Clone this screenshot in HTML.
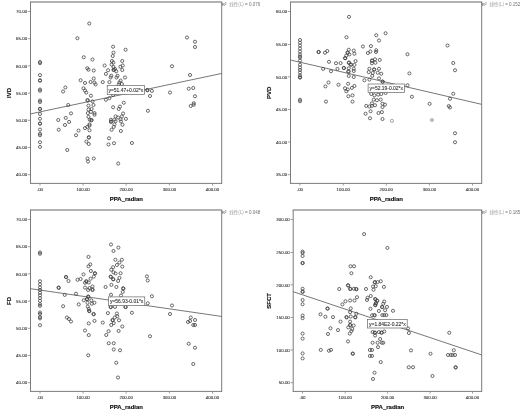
<!DOCTYPE html>
<html><head><meta charset="utf-8"><title>Scatter plots</title>
<style>
html,body{margin:0;padding:0;background:#fff;}
body{width:520px;height:416px;overflow:hidden;}
svg{display:block;}
.tk{font-family:"Liberation Sans",sans-serif;font-size:4.4px;fill:#3c3c3c;stroke:#3c3c3c;stroke-width:0.12;}
.ax{font-family:"Liberation Sans",sans-serif;font-size:6px;font-weight:bold;fill:#111;stroke:#111;stroke-width:0.15;}
.eq{font-family:"Liberation Sans",sans-serif;font-size:4.95px;fill:#333;stroke:#333;stroke-width:0.1;}
.r2{font-family:"Liberation Sans","Noto Sans CJK SC",sans-serif;font-size:4.5px;fill:#727272;}
.r2b{font-family:"Liberation Sans",sans-serif;font-size:4.3px;fill:#444;}
.c{fill:none;stroke:#424242;stroke-width:0.78;}
.f{fill:none;stroke:#747474;stroke-width:0.95;}
.ft{stroke:#9a9a9a;stroke-width:1.5;}
.t{stroke:#777;stroke-width:0.7;}
.ln{stroke:#686868;stroke-width:0.9;}
.bx{fill:#fff;stroke:#666;stroke-width:0.7;}
</style></head><body>
<svg width="520" height="416" viewBox="0 0 520 416">
<rect width="520" height="416" fill="#fff"/>
<g filter="url(#b)">
<defs><filter id="b" x="0" y="0" width="520" height="416" filterUnits="userSpaceOnUse"><feGaussianBlur stdDeviation="0.35"/></filter></defs>
<g>
<line class="f ft" x1="30.0" y1="2" x2="222.2" y2="2"/>
<line class="f" x1="30.5" y1="2" x2="30.5" y2="183.4"/>
<line class="f" x1="221.7" y1="2" x2="221.7" y2="183.4"/>
<line class="f" x1="30.0" y1="183.4" x2="222.2" y2="183.4"/>
<line class="t" x1="40" y1="183.4" x2="40" y2="185.6"/><text class="tk" x="40" y="190.9" text-anchor="middle">.00</text>
<line class="t" x1="83.1" y1="183.4" x2="83.1" y2="185.6"/><text class="tk" x="83.1" y="190.9" text-anchor="middle">100.00</text>
<line class="t" x1="126.2" y1="183.4" x2="126.2" y2="185.6"/><text class="tk" x="126.2" y="190.9" text-anchor="middle">200.00</text>
<line class="t" x1="169.4" y1="183.4" x2="169.4" y2="185.6"/><text class="tk" x="169.4" y="190.9" text-anchor="middle">300.00</text>
<line class="t" x1="212.5" y1="183.4" x2="212.5" y2="185.6"/><text class="tk" x="212.5" y="190.9" text-anchor="middle">400.00</text>
<line class="t" x1="27.9" y1="11.5" x2="30.5" y2="11.5"/><text class="tk" x="27.1" y="13.2" text-anchor="end">70.00</text>
<line class="t" x1="27.9" y1="38.7" x2="30.5" y2="38.7"/><text class="tk" x="27.1" y="40.4" text-anchor="end">65.00</text>
<line class="t" x1="27.9" y1="65.9" x2="30.5" y2="65.9"/><text class="tk" x="27.1" y="67.6" text-anchor="end">60.00</text>
<line class="t" x1="27.9" y1="93.1" x2="30.5" y2="93.1"/><text class="tk" x="27.1" y="94.8" text-anchor="end">55.00</text>
<line class="t" x1="27.9" y1="120.3" x2="30.5" y2="120.3"/><text class="tk" x="27.1" y="122.0" text-anchor="end">50.00</text>
<line class="t" x1="27.9" y1="147.5" x2="30.5" y2="147.5"/><text class="tk" x="27.1" y="149.2" text-anchor="end">45.00</text>
<line class="t" x1="27.9" y1="174.7" x2="30.5" y2="174.7"/><text class="tk" x="27.1" y="176.4" text-anchor="end">40.00</text>
<line class="ln" x1="30.5" y1="113.9" x2="221.7" y2="73.45"/>
<circle class="c" cx="89.25" cy="23.5" r="1.55"/><circle class="c" cx="77.4" cy="38.2" r="1.55"/><circle class="c" cx="40" cy="62" r="1.55"/><circle class="c" cx="40" cy="63.2" r="1.55"/><circle class="c" cx="40" cy="75.1" r="1.55"/><circle class="c" cx="40" cy="80.3" r="1.55"/><circle class="c" cx="40" cy="80.7" r="1.55"/><circle class="c" cx="40" cy="89.5" r="1.55"/><circle class="c" cx="40" cy="90.7" r="1.55"/><circle class="c" cx="40" cy="100.5" r="1.55"/><circle class="c" cx="40" cy="102" r="1.55"/><circle class="c" cx="83.75" cy="57.25" r="1.55"/><circle class="c" cx="92.5" cy="59.5" r="1.55"/><circle class="c" cx="87.25" cy="68.25" r="1.55"/><circle class="c" cx="88.5" cy="69.75" r="1.55"/><circle class="c" cx="93.75" cy="70.5" r="1.55"/><circle class="c" cx="93.75" cy="78.5" r="1.55"/><circle class="c" cx="80.6" cy="80.25" r="1.55"/><circle class="c" cx="85" cy="83" r="1.55"/><circle class="c" cx="90.6" cy="82" r="1.55"/><circle class="c" cx="94.4" cy="82.6" r="1.55"/><circle class="c" cx="65.4" cy="87.4" r="1.55"/><circle class="c" cx="63.1" cy="91.5" r="1.55"/><circle class="c" cx="83.5" cy="88.25" r="1.55"/><circle class="c" cx="85" cy="90.5" r="1.55"/><circle class="c" cx="86.25" cy="92.6" r="1.55"/><circle class="c" cx="90.9" cy="95.75" r="1.55"/><circle class="c" cx="87.5" cy="100.1" r="1.55"/><circle class="c" cx="87.7" cy="100.5" r="1.55"/><circle class="c" cx="92.5" cy="101.4" r="1.55"/><circle class="c" cx="113.1" cy="46.75" r="1.55"/><circle class="c" cx="125.6" cy="49.75" r="1.55"/><circle class="c" cx="113.5" cy="52.6" r="1.55"/><circle class="c" cx="112.75" cy="56" r="1.55"/><circle class="c" cx="111.9" cy="61" r="1.55"/><circle class="c" cx="113.4" cy="62.5" r="1.55"/><circle class="c" cx="122.25" cy="61" r="1.55"/><circle class="c" cx="111.6" cy="64.5" r="1.55"/><circle class="c" cx="104.6" cy="65.5" r="1.55"/><circle class="c" cx="113.5" cy="67" r="1.55"/><circle class="c" cx="120.4" cy="66.75" r="1.55"/><circle class="c" cx="122.75" cy="65.5" r="1.55"/><circle class="c" cx="108.1" cy="70.25" r="1.55"/><circle class="c" cx="113.5" cy="69.75" r="1.55"/><circle class="c" cx="113.8" cy="70.1" r="1.55"/><circle class="c" cx="115" cy="69.1" r="1.55"/><circle class="c" cx="116.25" cy="71.25" r="1.55"/><circle class="c" cx="122.25" cy="70" r="1.55"/><circle class="c" cx="105.9" cy="73.9" r="1.55"/><circle class="c" cx="111.25" cy="75.75" r="1.55"/><circle class="c" cx="117.5" cy="75.75" r="1.55"/><circle class="c" cx="125" cy="77.5" r="1.55"/><circle class="c" cx="110.6" cy="77.5" r="1.55"/><circle class="c" cx="116.5" cy="77.5" r="1.55"/><circle class="c" cx="102.75" cy="82.1" r="1.55"/><circle class="c" cx="109.4" cy="82.1" r="1.55"/><circle class="c" cx="120.6" cy="80.6" r="1.55"/><circle class="c" cx="119.4" cy="82.5" r="1.55"/><circle class="c" cx="118.75" cy="84.4" r="1.55"/><circle class="c" cx="121.9" cy="84" r="1.55"/><circle class="c" cx="95.6" cy="84.4" r="1.55"/><circle class="c" cx="147.25" cy="90" r="1.55"/><circle class="c" cx="147.5" cy="90.3" r="1.55"/><circle class="c" cx="151.9" cy="90.9" r="1.55"/><circle class="c" cx="150" cy="96" r="1.55"/><circle class="c" cx="113.1" cy="95" r="1.55"/><circle class="c" cx="109.4" cy="98.1" r="1.55"/><circle class="c" cx="105.9" cy="99.75" r="1.55"/><circle class="c" cx="123.75" cy="102.75" r="1.55"/><circle class="c" cx="113.1" cy="107.25" r="1.55"/><circle class="c" cx="120" cy="106.6" r="1.55"/><circle class="c" cx="118.75" cy="109" r="1.55"/><circle class="c" cx="147.9" cy="110.8" r="1.55"/><circle class="c" cx="123.1" cy="113.5" r="1.55"/><circle class="c" cx="115.6" cy="116.4" r="1.55"/><circle class="c" cx="118.1" cy="117.5" r="1.55"/><circle class="c" cx="121.9" cy="116.4" r="1.55"/><circle class="c" cx="125.9" cy="118.9" r="1.55"/><circle class="c" cx="110.9" cy="119.75" r="1.55"/><circle class="c" cx="110.9" cy="121.9" r="1.55"/><circle class="c" cx="111.2" cy="121.5" r="1.55"/><circle class="c" cx="114.4" cy="119.6" r="1.55"/><circle class="c" cx="115.6" cy="121.25" r="1.55"/><circle class="c" cx="120.6" cy="119.3" r="1.55"/><circle class="c" cx="121" cy="121.5" r="1.55"/><circle class="c" cx="114.4" cy="124.4" r="1.55"/><circle class="c" cx="122.5" cy="124.75" r="1.55"/><circle class="c" cx="113.75" cy="126.9" r="1.55"/><circle class="c" cx="111.6" cy="129.75" r="1.55"/><circle class="c" cx="120.9" cy="131" r="1.55"/><circle class="c" cx="109" cy="138.25" r="1.55"/><circle class="c" cx="114" cy="143.25" r="1.55"/><circle class="c" cx="108.5" cy="144.5" r="1.55"/><circle class="c" cx="131.9" cy="143" r="1.55"/><circle class="c" cx="118.2" cy="163.5" r="1.55"/><circle class="c" cx="40" cy="108.75" r="1.55"/><circle class="c" cx="40" cy="109.1" r="1.55"/><circle class="c" cx="40" cy="114" r="1.55"/><circle class="c" cx="40" cy="118.75" r="1.55"/><circle class="c" cx="40" cy="123.4" r="1.55"/><circle class="c" cx="40" cy="123.8" r="1.55"/><circle class="c" cx="40" cy="129.6" r="1.55"/><circle class="c" cx="40" cy="133.75" r="1.55"/><circle class="c" cx="40" cy="135.25" r="1.55"/><circle class="c" cx="40" cy="142.25" r="1.55"/><circle class="c" cx="40" cy="146.9" r="1.55"/><circle class="c" cx="68.25" cy="105" r="1.55"/><circle class="c" cx="71" cy="113.4" r="1.55"/><circle class="c" cx="65.75" cy="117.9" r="1.55"/><circle class="c" cx="58.25" cy="120" r="1.55"/><circle class="c" cx="69.1" cy="121.9" r="1.55"/><circle class="c" cx="65" cy="125" r="1.55"/><circle class="c" cx="58.75" cy="129.75" r="1.55"/><circle class="c" cx="78.5" cy="130.6" r="1.55"/><circle class="c" cx="76" cy="135.25" r="1.55"/><circle class="c" cx="67.25" cy="150" r="1.55"/><circle class="c" cx="88.5" cy="105.6" r="1.55"/><circle class="c" cx="93.5" cy="105" r="1.55"/><circle class="c" cx="88.5" cy="109.4" r="1.55"/><circle class="c" cx="91.6" cy="109" r="1.55"/><circle class="c" cx="87.9" cy="113.1" r="1.55"/><circle class="c" cx="91" cy="111.9" r="1.55"/><circle class="c" cx="94.5" cy="113.1" r="1.55"/><circle class="c" cx="94.5" cy="114.75" r="1.55"/><circle class="c" cx="88.5" cy="116.9" r="1.55"/><circle class="c" cx="89.75" cy="119.75" r="1.55"/><circle class="c" cx="91.6" cy="120" r="1.55"/><circle class="c" cx="91.3" cy="120.3" r="1.55"/><circle class="c" cx="89.5" cy="124.4" r="1.55"/><circle class="c" cx="89.5" cy="125.6" r="1.55"/><circle class="c" cx="85" cy="128.1" r="1.55"/><circle class="c" cx="87.25" cy="126.9" r="1.55"/><circle class="c" cx="89.5" cy="130.25" r="1.55"/><circle class="c" cx="88.75" cy="137.25" r="1.55"/><circle class="c" cx="89" cy="137.5" r="1.55"/><circle class="c" cx="86.4" cy="141.6" r="1.55"/><circle class="c" cx="88.75" cy="144" r="1.55"/><circle class="c" cx="87.5" cy="158.5" r="1.55"/><circle class="c" cx="88" cy="161.5" r="1.55"/><circle class="c" cx="93.75" cy="158.5" r="1.55"/><circle class="c" cx="187" cy="37.5" r="1.55"/><circle class="c" cx="195" cy="41.75" r="1.55"/><circle class="c" cx="195" cy="47" r="1.55"/><circle class="c" cx="172" cy="66.25" r="1.55"/><circle class="c" cx="190" cy="75" r="1.55"/><circle class="c" cx="170" cy="92.5" r="1.55"/><circle class="c" cx="188.75" cy="88.75" r="1.55"/><circle class="c" cx="193.25" cy="88" r="1.55"/><circle class="c" cx="195" cy="96.25" r="1.55"/><circle class="c" cx="193.75" cy="103.25" r="1.55"/><circle class="c" cx="190.75" cy="106" r="1.55"/><circle class="c" cx="193.75" cy="104.75" r="1.55"/>
<rect class="bx" x="107.25" y="85.6" width="37.15" height="8.8"/><text class="eq" x="125.825" y="91.7" text-anchor="middle">y=51.47+0.02*x</text>
<text class="ax" transform="translate(11.2,92.9) rotate(-90)" text-anchor="middle">IVD</text>
<text class="ax" x="109.75" y="201.3">PPA_radian</text>
<text class="r2b" x="221.7" y="6.3">R<tspan font-size="3px" dy="-1.6">2</tspan></text><text class="r2" x="229.3" y="6.3"><tspan fill="#a2a2a2">线性(L)</tspan> = 0.076</text>
</g>
<g>
<line class="f ft" x1="290.0" y1="2" x2="482.2" y2="2"/>
<line class="f" x1="290.5" y1="2" x2="290.5" y2="183.4"/>
<line class="f" x1="481.7" y1="2" x2="481.7" y2="183.4"/>
<line class="f" x1="290.0" y1="183.4" x2="482.2" y2="183.4"/>
<line class="t" x1="300" y1="183.4" x2="300" y2="185.6"/><text class="tk" x="300" y="190.9" text-anchor="middle">.00</text>
<line class="t" x1="343.25" y1="183.4" x2="343.25" y2="185.6"/><text class="tk" x="343.25" y="190.9" text-anchor="middle">100.00</text>
<line class="t" x1="386.3" y1="183.4" x2="386.3" y2="185.6"/><text class="tk" x="386.3" y="190.9" text-anchor="middle">200.00</text>
<line class="t" x1="429.4" y1="183.4" x2="429.4" y2="185.6"/><text class="tk" x="429.4" y="190.9" text-anchor="middle">300.00</text>
<line class="t" x1="472.5" y1="183.4" x2="472.5" y2="185.6"/><text class="tk" x="472.5" y="190.9" text-anchor="middle">400.00</text>
<line class="t" x1="287.9" y1="11.5" x2="290.5" y2="11.5"/><text class="tk" x="287.1" y="13.2" text-anchor="end">60.00</text>
<line class="t" x1="287.9" y1="44.5" x2="290.5" y2="44.5"/><text class="tk" x="287.1" y="46.2" text-anchor="end">55.00</text>
<line class="t" x1="287.9" y1="76.8" x2="290.5" y2="76.8"/><text class="tk" x="287.1" y="78.5" text-anchor="end">50.00</text>
<line class="t" x1="287.9" y1="109.5" x2="290.5" y2="109.5"/><text class="tk" x="287.1" y="111.2" text-anchor="end">45.00</text>
<line class="t" x1="287.9" y1="142" x2="290.5" y2="142"/><text class="tk" x="287.1" y="143.7" text-anchor="end">40.00</text>
<line class="t" x1="287.9" y1="174.7" x2="290.5" y2="174.7"/><text class="tk" x="287.1" y="176.4" text-anchor="end">35.00</text>
<line class="ln" x1="290.5" y1="60.0" x2="481.7" y2="104.35"/>
<circle class="c" cx="300" cy="40" r="1.55"/><circle class="c" cx="300" cy="42.75" r="1.55"/><circle class="c" cx="300" cy="45.6" r="1.55"/><circle class="c" cx="300" cy="48.5" r="1.55"/><circle class="c" cx="300" cy="51.5" r="1.55"/><circle class="c" cx="300" cy="54.4" r="1.55"/><circle class="c" cx="300" cy="56.5" r="1.55"/><circle class="c" cx="300" cy="57.5" r="1.55"/><circle class="c" cx="300" cy="60.6" r="1.55"/><circle class="c" cx="349" cy="16.9" r="1.55"/><circle class="c" cx="346.5" cy="37.25" r="1.55"/><circle class="c" cx="318.5" cy="51.9" r="1.55"/><circle class="c" cx="318.8" cy="52.1" r="1.55"/><circle class="c" cx="325" cy="52.75" r="1.55"/><circle class="c" cx="327.25" cy="51" r="1.55"/><circle class="c" cx="348.75" cy="49.75" r="1.55"/><circle class="c" cx="353.75" cy="50.6" r="1.55"/><circle class="c" cx="347.5" cy="52.5" r="1.55"/><circle class="c" cx="347.8" cy="52.8" r="1.55"/><circle class="c" cx="349.4" cy="54.4" r="1.55"/><circle class="c" cx="354.4" cy="53.75" r="1.55"/><circle class="c" cx="346.25" cy="55.6" r="1.55"/><circle class="c" cx="345" cy="58.1" r="1.55"/><circle class="c" cx="345.3" cy="58.3" r="1.55"/><circle class="c" cx="329" cy="61.8" r="1.55"/><circle class="c" cx="300" cy="64.75" r="1.55"/><circle class="c" cx="300" cy="67.5" r="1.55"/><circle class="c" cx="300" cy="70" r="1.55"/><circle class="c" cx="300" cy="72.5" r="1.55"/><circle class="c" cx="300" cy="75.4" r="1.55"/><circle class="c" cx="300" cy="77.25" r="1.55"/><circle class="c" cx="300" cy="77.6" r="1.55"/><circle class="c" cx="300" cy="99.75" r="1.55"/><circle class="c" cx="300" cy="101.25" r="1.55"/><circle class="c" cx="336" cy="63.25" r="1.55"/><circle class="c" cx="340.6" cy="63.1" r="1.55"/><circle class="c" cx="348.75" cy="62.9" r="1.55"/><circle class="c" cx="349" cy="62.5" r="1.55"/><circle class="c" cx="351.25" cy="64.75" r="1.55"/><circle class="c" cx="343.75" cy="67.9" r="1.55"/><circle class="c" cx="344" cy="68.1" r="1.55"/><circle class="c" cx="348.75" cy="68.25" r="1.55"/><circle class="c" cx="337.5" cy="68.9" r="1.55"/><circle class="c" cx="323.1" cy="68.9" r="1.55"/><circle class="c" cx="331" cy="71.25" r="1.55"/><circle class="c" cx="348.1" cy="71.6" r="1.55"/><circle class="c" cx="353.75" cy="71" r="1.55"/><circle class="c" cx="348.75" cy="76" r="1.55"/><circle class="c" cx="353.75" cy="77" r="1.55"/><circle class="c" cx="328.5" cy="82.5" r="1.55"/><circle class="c" cx="325.4" cy="86.4" r="1.55"/><circle class="c" cx="338.5" cy="84.75" r="1.55"/><circle class="c" cx="348.1" cy="83.75" r="1.55"/><circle class="c" cx="345" cy="88.25" r="1.55"/><circle class="c" cx="347.75" cy="89.5" r="1.55"/><circle class="c" cx="346.25" cy="91.25" r="1.55"/><circle class="c" cx="351.9" cy="87.9" r="1.55"/><circle class="c" cx="354.4" cy="86" r="1.55"/><circle class="c" cx="348.4" cy="96.25" r="1.55"/><circle class="c" cx="352.5" cy="95.4" r="1.55"/><circle class="c" cx="326" cy="101.6" r="1.55"/><circle class="c" cx="352.5" cy="101.6" r="1.55"/><circle class="c" cx="385.6" cy="33.25" r="1.55"/><circle class="c" cx="376.25" cy="35.25" r="1.55"/><circle class="c" cx="379" cy="40.5" r="1.55"/><circle class="c" cx="362.9" cy="46.5" r="1.55"/><circle class="c" cx="370.9" cy="46.1" r="1.55"/><circle class="c" cx="370.4" cy="51.5" r="1.55"/><circle class="c" cx="367.9" cy="53" r="1.55"/><circle class="c" cx="376.25" cy="50.25" r="1.55"/><circle class="c" cx="376" cy="52" r="1.55"/><circle class="c" cx="407.5" cy="54.25" r="1.55"/><circle class="c" cx="350.6" cy="64.5" r="1.55"/><circle class="c" cx="355.6" cy="61.1" r="1.55"/><circle class="c" cx="354.4" cy="64.9" r="1.55"/><circle class="c" cx="371.9" cy="60.5" r="1.55"/><circle class="c" cx="372.2" cy="60.8" r="1.55"/><circle class="c" cx="375" cy="59.25" r="1.55"/><circle class="c" cx="379.75" cy="59.9" r="1.55"/><circle class="c" cx="371.9" cy="63.25" r="1.55"/><circle class="c" cx="375.4" cy="62.75" r="1.55"/><circle class="c" cx="353.75" cy="68.8" r="1.55"/><circle class="c" cx="369.4" cy="68.8" r="1.55"/><circle class="c" cx="374" cy="69.4" r="1.55"/><circle class="c" cx="374.3" cy="69.6" r="1.55"/><circle class="c" cx="379" cy="68.8" r="1.55"/><circle class="c" cx="348.75" cy="71.5" r="1.55"/><circle class="c" cx="368.75" cy="72.1" r="1.55"/><circle class="c" cx="372.75" cy="73" r="1.55"/><circle class="c" cx="377.75" cy="72.75" r="1.55"/><circle class="c" cx="381.25" cy="73.75" r="1.55"/><circle class="c" cx="372.25" cy="75.9" r="1.55"/><circle class="c" cx="409.4" cy="73.4" r="1.55"/><circle class="c" cx="364.4" cy="80.25" r="1.55"/><circle class="c" cx="369.4" cy="79.6" r="1.55"/><circle class="c" cx="379" cy="78.4" r="1.55"/><circle class="c" cx="382.5" cy="81.5" r="1.55"/><circle class="c" cx="382.8" cy="81.8" r="1.55"/><circle class="c" cx="407.5" cy="85.25" r="1.55"/><circle class="c" cx="371.25" cy="94" r="1.55"/><circle class="c" cx="374.4" cy="95.25" r="1.55"/><circle class="c" cx="378.1" cy="94.6" r="1.55"/><circle class="c" cx="381.25" cy="94" r="1.55"/><circle class="c" cx="385.6" cy="93" r="1.55"/><circle class="c" cx="373.75" cy="99.6" r="1.55"/><circle class="c" cx="376.9" cy="100.25" r="1.55"/><circle class="c" cx="380.6" cy="99.6" r="1.55"/><circle class="c" cx="371.9" cy="103.4" r="1.55"/><circle class="c" cx="366.25" cy="105.9" r="1.55"/><circle class="c" cx="369.4" cy="106.5" r="1.55"/><circle class="c" cx="371.9" cy="105.9" r="1.55"/><circle class="c" cx="375" cy="105.25" r="1.55"/><circle class="c" cx="382.5" cy="103.75" r="1.55"/><circle class="c" cx="385" cy="104.6" r="1.55"/><circle class="c" cx="382.5" cy="107.1" r="1.55"/><circle class="c" cx="370.6" cy="111.25" r="1.55"/><circle class="c" cx="365.6" cy="113.75" r="1.55"/><circle class="c" cx="378.5" cy="113" r="1.55"/><circle class="c" cx="381.9" cy="112.1" r="1.55"/><circle class="c" cx="370" cy="118.25" r="1.55"/><circle class="c" cx="382.5" cy="119" r="1.55"/><circle class="c" cx="447.5" cy="45.5" r="1.55"/><circle class="c" cx="453.25" cy="63" r="1.55"/><circle class="c" cx="455" cy="70.25" r="1.55"/><circle class="c" cx="453.25" cy="93.75" r="1.55"/><circle class="c" cx="450" cy="98.75" r="1.55"/><circle class="c" cx="411.9" cy="96.75" r="1.55"/><circle class="c" cx="429.6" cy="103.8" r="1.55"/><circle class="c" cx="448.75" cy="106.1" r="1.55"/><circle class="c" cx="450" cy="107.5" r="1.55"/><circle class="c" cx="455" cy="133.25" r="1.55"/><circle class="c" cx="455" cy="142.25" r="1.55"/><circle cx="391.9" cy="120.9" r="1.55" fill="none" stroke="#8a8a8a" stroke-width="0.75"/><circle cx="431.9" cy="120" r="1.6" fill="#c4c4c4" stroke="#999" stroke-width="0.6"/>
<rect class="bx" x="368.1" y="84" width="36.3" height="8.5"/><text class="eq" x="386.25" y="89.95" text-anchor="middle">y=52.19-0.02*x</text>
<text class="ax" transform="translate(271.2,92.9) rotate(-90)" text-anchor="middle">PVD</text>
<text class="ax" x="369.75" y="201.3">PPA_radian</text>
<text class="r2b" x="481.8" y="6.3">R<tspan font-size="3px" dy="-1.6">2</tspan></text><text class="r2" x="489.4" y="6.3"><tspan fill="#a2a2a2">线性(L)</tspan> = 0.152</text>
</g>
<g>
<line class="f ft" x1="30.0" y1="210" x2="222.2" y2="210"/>
<line class="f" x1="30.5" y1="210" x2="30.5" y2="391.4"/>
<line class="f" x1="221.7" y1="210" x2="221.7" y2="391.4"/>
<line class="f" x1="30.0" y1="391.4" x2="222.2" y2="391.4"/>
<line class="t" x1="40" y1="391.4" x2="40" y2="393.6"/><text class="tk" x="40" y="398.9" text-anchor="middle">.00</text>
<line class="t" x1="83.1" y1="391.4" x2="83.1" y2="393.6"/><text class="tk" x="83.1" y="398.9" text-anchor="middle">100.00</text>
<line class="t" x1="126.2" y1="391.4" x2="126.2" y2="393.6"/><text class="tk" x="126.2" y="398.9" text-anchor="middle">200.00</text>
<line class="t" x1="169.4" y1="391.4" x2="169.4" y2="393.6"/><text class="tk" x="169.4" y="398.9" text-anchor="middle">300.00</text>
<line class="t" x1="212.5" y1="391.4" x2="212.5" y2="393.6"/><text class="tk" x="212.5" y="398.9" text-anchor="middle">400.00</text>
<line class="t" x1="27.9" y1="219.5" x2="30.5" y2="219.5"/><text class="tk" x="27.1" y="221.2" text-anchor="end">70.00</text>
<line class="t" x1="27.9" y1="246.7" x2="30.5" y2="246.7"/><text class="tk" x="27.1" y="248.4" text-anchor="end">65.00</text>
<line class="t" x1="27.9" y1="273.9" x2="30.5" y2="273.9"/><text class="tk" x="27.1" y="275.6" text-anchor="end">60.00</text>
<line class="t" x1="27.9" y1="301.1" x2="30.5" y2="301.1"/><text class="tk" x="27.1" y="302.8" text-anchor="end">55.00</text>
<line class="t" x1="27.9" y1="328.3" x2="30.5" y2="328.3"/><text class="tk" x="27.1" y="330.0" text-anchor="end">50.00</text>
<line class="t" x1="27.9" y1="355.5" x2="30.5" y2="355.5"/><text class="tk" x="27.1" y="357.2" text-anchor="end">45.00</text>
<line class="t" x1="27.9" y1="382.7" x2="30.5" y2="382.7"/><text class="tk" x="27.1" y="384.4" text-anchor="end">40.00</text>
<line class="ln" x1="30.5" y1="288.7" x2="221.7" y2="316.45"/>
<circle class="c" cx="40" cy="252.5" r="1.55"/><circle class="c" cx="40" cy="253.75" r="1.55"/><circle class="c" cx="40" cy="281.25" r="1.55"/><circle class="c" cx="40" cy="284.4" r="1.55"/><circle class="c" cx="40" cy="287.5" r="1.55"/><circle class="c" cx="40" cy="290" r="1.55"/><circle class="c" cx="88.5" cy="256.9" r="1.55"/><circle class="c" cx="90.25" cy="264.4" r="1.55"/><circle class="c" cx="88.5" cy="266.25" r="1.55"/><circle class="c" cx="90.9" cy="271" r="1.55"/><circle class="c" cx="83.5" cy="274.4" r="1.55"/><circle class="c" cx="94.8" cy="273.2" r="1.55"/><circle class="c" cx="95.1" cy="273.5" r="1.55"/><circle class="c" cx="65.9" cy="276.9" r="1.55"/><circle class="c" cx="66.2" cy="277.2" r="1.55"/><circle class="c" cx="68.5" cy="281" r="1.55"/><circle class="c" cx="77.5" cy="279.75" r="1.55"/><circle class="c" cx="80.6" cy="279" r="1.55"/><circle class="c" cx="90.6" cy="278.75" r="1.55"/><circle class="c" cx="86.25" cy="281.25" r="1.55"/><circle class="c" cx="86.5" cy="281.5" r="1.55"/><circle class="c" cx="85" cy="282.75" r="1.55"/><circle class="c" cx="88.75" cy="282.5" r="1.55"/><circle class="c" cx="58.5" cy="287.5" r="1.55"/><circle class="c" cx="58.8" cy="287.9" r="1.55"/><circle class="c" cx="92.5" cy="286.5" r="1.55"/><circle class="c" cx="85" cy="287.6" r="1.55"/><circle class="c" cx="89.4" cy="288.1" r="1.55"/><circle class="c" cx="88.1" cy="290" r="1.55"/><circle class="c" cx="92.5" cy="290.1" r="1.55"/><circle class="c" cx="40" cy="292.75" r="1.55"/><circle class="c" cx="40" cy="295.25" r="1.55"/><circle class="c" cx="40" cy="298" r="1.55"/><circle class="c" cx="40" cy="300.9" r="1.55"/><circle class="c" cx="40" cy="304.25" r="1.55"/><circle class="c" cx="40" cy="305.9" r="1.55"/><circle class="c" cx="40" cy="312.5" r="1.55"/><circle class="c" cx="40" cy="314" r="1.55"/><circle class="c" cx="40" cy="317.1" r="1.55"/><circle class="c" cx="40" cy="318.4" r="1.55"/><circle class="c" cx="40" cy="325.25" r="1.55"/><circle class="c" cx="64.75" cy="294.9" r="1.55"/><circle class="c" cx="76" cy="293.75" r="1.55"/><circle class="c" cx="63.1" cy="306.25" r="1.55"/><circle class="c" cx="78.75" cy="304.4" r="1.55"/><circle class="c" cx="66.9" cy="317.5" r="1.55"/><circle class="c" cx="69" cy="319" r="1.55"/><circle class="c" cx="71" cy="321.5" r="1.55"/><circle class="c" cx="88.1" cy="296.5" r="1.55"/><circle class="c" cx="88.4" cy="296.8" r="1.55"/><circle class="c" cx="86.9" cy="299" r="1.55"/><circle class="c" cx="87.2" cy="299.3" r="1.55"/><circle class="c" cx="83.75" cy="300.25" r="1.55"/><circle class="c" cx="91.25" cy="300.25" r="1.55"/><circle class="c" cx="87.5" cy="302.75" r="1.55"/><circle class="c" cx="91.9" cy="303.75" r="1.55"/><circle class="c" cx="94.4" cy="302.75" r="1.55"/><circle class="c" cx="87.75" cy="306.5" r="1.55"/><circle class="c" cx="88.75" cy="309" r="1.55"/><circle class="c" cx="89.1" cy="310.9" r="1.55"/><circle class="c" cx="89.4" cy="311.2" r="1.55"/><circle class="c" cx="93.5" cy="314" r="1.55"/><circle class="c" cx="93.8" cy="314.3" r="1.55"/><circle class="c" cx="94.5" cy="320.9" r="1.55"/><circle class="c" cx="88.75" cy="323.4" r="1.55"/><circle class="c" cx="85" cy="330.5" r="1.55"/><circle class="c" cx="88.75" cy="335.1" r="1.55"/><circle class="c" cx="88.25" cy="355.25" r="1.55"/><circle class="c" cx="111" cy="244.5" r="1.55"/><circle class="c" cx="118.4" cy="247.6" r="1.55"/><circle class="c" cx="113.5" cy="251" r="1.55"/><circle class="c" cx="115.4" cy="259.75" r="1.55"/><circle class="c" cx="121.9" cy="259.75" r="1.55"/><circle class="c" cx="119.4" cy="262.5" r="1.55"/><circle class="c" cx="116.9" cy="265" r="1.55"/><circle class="c" cx="122.25" cy="266.6" r="1.55"/><circle class="c" cx="113.1" cy="267.25" r="1.55"/><circle class="c" cx="111.25" cy="269.75" r="1.55"/><circle class="c" cx="113.5" cy="272.25" r="1.55"/><circle class="c" cx="115.6" cy="273.5" r="1.55"/><circle class="c" cx="120.6" cy="273.25" r="1.55"/><circle class="c" cx="93.75" cy="276.6" r="1.55"/><circle class="c" cx="110.6" cy="276.6" r="1.55"/><circle class="c" cx="110.9" cy="276.9" r="1.55"/><circle class="c" cx="113.1" cy="279.1" r="1.55"/><circle class="c" cx="113.4" cy="279.4" r="1.55"/><circle class="c" cx="119.4" cy="277.9" r="1.55"/><circle class="c" cx="118.1" cy="281" r="1.55"/><circle class="c" cx="146.9" cy="276.4" r="1.55"/><circle class="c" cx="147.75" cy="280.5" r="1.55"/><circle class="c" cx="111.4" cy="284.9" r="1.55"/><circle class="c" cx="105.6" cy="287" r="1.55"/><circle class="c" cx="116.4" cy="287" r="1.55"/><circle class="c" cx="123.1" cy="288.2" r="1.55"/><circle class="c" cx="123.4" cy="288.7" r="1.55"/><circle class="c" cx="92.5" cy="289.4" r="1.55"/><circle class="c" cx="122.75" cy="291.9" r="1.55"/><circle class="c" cx="111" cy="294.75" r="1.55"/><circle class="c" cx="121" cy="295.6" r="1.55"/><circle class="c" cx="151.9" cy="296.25" r="1.55"/><circle class="c" cx="147.75" cy="303.3" r="1.55"/><circle class="c" cx="110.6" cy="306.9" r="1.55"/><circle class="c" cx="110.9" cy="307.2" r="1.55"/><circle class="c" cx="115" cy="306.9" r="1.55"/><circle class="c" cx="125.4" cy="306.9" r="1.55"/><circle class="c" cx="125.7" cy="307.2" r="1.55"/><circle class="c" cx="131.9" cy="312.75" r="1.55"/><circle class="c" cx="107.9" cy="313.1" r="1.55"/><circle class="c" cx="116.9" cy="313.5" r="1.55"/><circle class="c" cx="117.25" cy="316.25" r="1.55"/><circle class="c" cx="114.75" cy="317.5" r="1.55"/><circle class="c" cx="112.5" cy="320" r="1.55"/><circle class="c" cx="112.8" cy="320.3" r="1.55"/><circle class="c" cx="119" cy="320.25" r="1.55"/><circle class="c" cx="102.75" cy="322.6" r="1.55"/><circle class="c" cx="113.75" cy="323.1" r="1.55"/><circle class="c" cx="111.25" cy="325" r="1.55"/><circle class="c" cx="122.3" cy="326.5" r="1.55"/><circle class="c" cx="108.6" cy="331.2" r="1.55"/><circle class="c" cx="118.6" cy="331" r="1.55"/><circle class="c" cx="106.25" cy="335" r="1.55"/><circle class="c" cx="108.75" cy="343.25" r="1.55"/><circle class="c" cx="113.75" cy="343.25" r="1.55"/><circle class="c" cx="113.75" cy="349.5" r="1.55"/><circle class="c" cx="120" cy="350.25" r="1.55"/><circle class="c" cx="116.25" cy="362.75" r="1.55"/><circle class="c" cx="118" cy="377.5" r="1.55"/><circle class="c" cx="170" cy="314" r="1.55"/><circle class="c" cx="190.75" cy="317.5" r="1.55"/><circle class="c" cx="195" cy="320" r="1.55"/><circle class="c" cx="188" cy="322" r="1.55"/><circle class="c" cx="190" cy="321" r="1.55"/><circle class="c" cx="193.25" cy="325" r="1.55"/><circle class="c" cx="195" cy="325" r="1.55"/><circle class="c" cx="150" cy="336.25" r="1.55"/><circle class="c" cx="188.75" cy="343.75" r="1.55"/><circle class="c" cx="195" cy="347.75" r="1.55"/><circle class="c" cx="193.25" cy="364" r="1.55"/><circle class="c" cx="172" cy="305.5" r="1.55"/>
<rect class="bx" x="108.5" y="296.9" width="36.25" height="8.7"/><text class="eq" x="126.625" y="302.95" text-anchor="middle">y=56.93-0.01*x</text>
<text class="ax" transform="translate(11.2,300.9) rotate(-90)" text-anchor="middle">FD</text>
<text class="ax" x="109.75" y="409.3">PPA_radian</text>
<text class="r2b" x="221.7" y="214.3">R<tspan font-size="3px" dy="-1.6">2</tspan></text><text class="r2" x="229.3" y="214.3"><tspan fill="#a2a2a2">线性(L)</tspan> = 0.048</text>
</g>
<g>
<line class="f ft" x1="292.7" y1="210" x2="482.2" y2="210"/>
<line class="f" x1="293.2" y1="210" x2="293.2" y2="391.4"/>
<line class="f" x1="481.7" y1="210" x2="481.7" y2="391.4"/>
<line class="f" x1="292.7" y1="391.4" x2="482.2" y2="391.4"/>
<line class="t" x1="302.5" y1="391.4" x2="302.5" y2="393.6"/><text class="tk" x="302.5" y="398.9" text-anchor="middle">.00</text>
<line class="t" x1="345.3" y1="391.4" x2="345.3" y2="393.6"/><text class="tk" x="345.3" y="398.9" text-anchor="middle">100.00</text>
<line class="t" x1="387.6" y1="391.4" x2="387.6" y2="393.6"/><text class="tk" x="387.6" y="398.9" text-anchor="middle">200.00</text>
<line class="t" x1="430.1" y1="391.4" x2="430.1" y2="393.6"/><text class="tk" x="430.1" y="398.9" text-anchor="middle">300.00</text>
<line class="t" x1="472.5" y1="391.4" x2="472.5" y2="393.6"/><text class="tk" x="472.5" y="398.9" text-anchor="middle">400.00</text>
<line class="t" x1="290.6" y1="219.5" x2="293.2" y2="219.5"/><text class="tk" x="289.8" y="221.2" text-anchor="end">300.00</text>
<line class="t" x1="290.6" y1="252.5" x2="293.2" y2="252.5"/><text class="tk" x="289.8" y="254.2" text-anchor="end">250.00</text>
<line class="t" x1="290.6" y1="284.8" x2="293.2" y2="284.8"/><text class="tk" x="289.8" y="286.5" text-anchor="end">200.00</text>
<line class="t" x1="290.6" y1="317.5" x2="293.2" y2="317.5"/><text class="tk" x="289.8" y="319.2" text-anchor="end">150.00</text>
<line class="t" x1="290.6" y1="350" x2="293.2" y2="350"/><text class="tk" x="289.8" y="351.7" text-anchor="end">100.00</text>
<line class="t" x1="290.6" y1="382.7" x2="293.2" y2="382.7"/><text class="tk" x="289.8" y="384.4" text-anchor="end">50.00</text>
<line class="ln" x1="293.2" y1="291.7" x2="481.7" y2="354.9"/>
<circle class="c" cx="302.6" cy="251.6" r="1.55"/><circle class="c" cx="302.6" cy="252.9" r="1.55"/><circle class="c" cx="302.6" cy="256" r="1.55"/><circle class="c" cx="302.6" cy="262.9" r="1.55"/><circle class="c" cx="302.6" cy="263.2" r="1.55"/><circle class="c" cx="350.5" cy="266.25" r="1.55"/><circle class="c" cx="354" cy="266.25" r="1.55"/><circle class="c" cx="351.4" cy="273.25" r="1.55"/><circle class="c" cx="302.6" cy="288.75" r="1.55"/><circle class="c" cx="302.6" cy="291.5" r="1.55"/><circle class="c" cx="302.6" cy="291.9" r="1.55"/><circle class="c" cx="302.6" cy="300" r="1.55"/><circle class="c" cx="302.6" cy="304.25" r="1.55"/><circle class="c" cx="302.6" cy="315.5" r="1.55"/><circle class="c" cx="302.6" cy="318.2" r="1.55"/><circle class="c" cx="339.25" cy="289" r="1.55"/><circle class="c" cx="348" cy="285.25" r="1.55"/><circle class="c" cx="348.3" cy="285.6" r="1.55"/><circle class="c" cx="350.1" cy="288.75" r="1.55"/><circle class="c" cx="350.4" cy="289.1" r="1.55"/><circle class="c" cx="353.9" cy="288.75" r="1.55"/><circle class="c" cx="356.2" cy="289" r="1.55"/><circle class="c" cx="356.5" cy="289.3" r="1.55"/><circle class="c" cx="345.5" cy="301.25" r="1.55"/><circle class="c" cx="350.1" cy="300.5" r="1.55"/><circle class="c" cx="354.5" cy="300.5" r="1.55"/><circle class="c" cx="342.4" cy="304.4" r="1.55"/><circle class="c" cx="327.4" cy="308.4" r="1.55"/><circle class="c" cx="327.7" cy="308.7" r="1.55"/><circle class="c" cx="350.75" cy="308.4" r="1.55"/><circle class="c" cx="350.1" cy="312.1" r="1.55"/><circle class="c" cx="320.5" cy="314.25" r="1.55"/><circle class="c" cx="325.4" cy="316.75" r="1.55"/><circle class="c" cx="333" cy="317.1" r="1.55"/><circle class="c" cx="346.4" cy="317.1" r="1.55"/><circle class="c" cx="346.7" cy="317.4" r="1.55"/><circle class="c" cx="350.75" cy="316.5" r="1.55"/><circle class="c" cx="355.1" cy="317.1" r="1.55"/><circle class="c" cx="355.4" cy="317.4" r="1.55"/><circle class="c" cx="340.5" cy="321.6" r="1.55"/><circle class="c" cx="350.1" cy="321.6" r="1.55"/><circle class="c" cx="350" cy="324.9" r="1.55"/><circle class="c" cx="350.3" cy="325.2" r="1.55"/><circle class="c" cx="353.6" cy="325.5" r="1.55"/><circle class="c" cx="302.6" cy="333.6" r="1.55"/><circle class="c" cx="302.6" cy="338.6" r="1.55"/><circle class="c" cx="302.6" cy="353.4" r="1.55"/><circle class="c" cx="302.6" cy="358.4" r="1.55"/><circle class="c" cx="348.25" cy="327.4" r="1.55"/><circle class="c" cx="330.5" cy="328.25" r="1.55"/><circle class="c" cx="338" cy="330.1" r="1.55"/><circle class="c" cx="352.25" cy="329" r="1.55"/><circle class="c" cx="351.4" cy="331.1" r="1.55"/><circle class="c" cx="349.75" cy="333.6" r="1.55"/><circle class="c" cx="328" cy="334" r="1.55"/><circle class="c" cx="348" cy="341.4" r="1.55"/><circle class="c" cx="320.75" cy="349.9" r="1.55"/><circle class="c" cx="328.9" cy="350.75" r="1.55"/><circle class="c" cx="331" cy="349.9" r="1.55"/><circle class="c" cx="352.6" cy="353.5" r="1.55"/><circle class="c" cx="352.9" cy="353.8" r="1.55"/><circle class="c" cx="364.1" cy="234.1" r="1.55"/><circle class="c" cx="387.4" cy="247.9" r="1.55"/><circle class="c" cx="370.75" cy="277.25" r="1.55"/><circle class="c" cx="374.75" cy="282.1" r="1.55"/><circle class="c" cx="375" cy="282.4" r="1.55"/><circle class="c" cx="377.6" cy="282.1" r="1.55"/><circle class="c" cx="380.75" cy="281.25" r="1.55"/><circle class="c" cx="373" cy="286.5" r="1.55"/><circle class="c" cx="375.75" cy="286.25" r="1.55"/><circle class="c" cx="383.9" cy="286.9" r="1.55"/><circle class="c" cx="373.5" cy="289.75" r="1.55"/><circle class="c" cx="366" cy="289" r="1.55"/><circle class="c" cx="370.75" cy="296" r="1.55"/><circle class="c" cx="367.6" cy="297.75" r="1.55"/><circle class="c" cx="367" cy="300" r="1.55"/><circle class="c" cx="375.1" cy="299" r="1.55"/><circle class="c" cx="375.4" cy="299.3" r="1.55"/><circle class="c" cx="377" cy="300.6" r="1.55"/><circle class="c" cx="377.3" cy="300.9" r="1.55"/><circle class="c" cx="357" cy="297.25" r="1.55"/><circle class="c" cx="375.75" cy="303.1" r="1.55"/><circle class="c" cx="376" cy="303.4" r="1.55"/><circle class="c" cx="375.1" cy="305" r="1.55"/><circle class="c" cx="375.4" cy="305.3" r="1.55"/><circle class="c" cx="384.25" cy="301.5" r="1.55"/><circle class="c" cx="383.25" cy="303.75" r="1.55"/><circle class="c" cx="382" cy="306.9" r="1.55"/><circle class="c" cx="382.3" cy="307.2" r="1.55"/><circle class="c" cx="387" cy="306.9" r="1.55"/><circle class="c" cx="370.5" cy="308.75" r="1.55"/><circle class="c" cx="378.9" cy="311" r="1.55"/><circle class="c" cx="385.1" cy="310.25" r="1.55"/><circle class="c" cx="393" cy="310.8" r="1.55"/><circle class="c" cx="372.1" cy="315.25" r="1.55"/><circle class="c" cx="374.4" cy="315.1" r="1.55"/><circle class="c" cx="374.7" cy="315.4" r="1.55"/><circle class="c" cx="382.3" cy="315.1" r="1.55"/><circle class="c" cx="384.25" cy="315.1" r="1.55"/><circle class="c" cx="386.4" cy="315.1" r="1.55"/><circle class="c" cx="356.4" cy="313.75" r="1.55"/><circle class="c" cx="408" cy="328.4" r="1.55"/><circle class="c" cx="408.9" cy="333" r="1.55"/><circle class="c" cx="372.6" cy="332.1" r="1.55"/><circle class="c" cx="374.75" cy="332.5" r="1.55"/><circle class="c" cx="375" cy="332.8" r="1.55"/><circle class="c" cx="378.9" cy="332.1" r="1.55"/><circle class="c" cx="381.4" cy="332.5" r="1.55"/><circle class="c" cx="381.7" cy="332.8" r="1.55"/><circle class="c" cx="384.25" cy="331.5" r="1.55"/><circle class="c" cx="375.1" cy="335.5" r="1.55"/><circle class="c" cx="380.1" cy="339" r="1.55"/><circle class="c" cx="372.6" cy="342.75" r="1.55"/><circle class="c" cx="377.6" cy="342.75" r="1.55"/><circle class="c" cx="381.75" cy="342.75" r="1.55"/><circle class="c" cx="383.25" cy="342.75" r="1.55"/><circle class="c" cx="378" cy="347.1" r="1.55"/><circle class="c" cx="369.9" cy="350" r="1.55"/><circle class="c" cx="372" cy="350" r="1.55"/><circle class="c" cx="369.9" cy="355.9" r="1.55"/><circle class="c" cx="372" cy="355.9" r="1.55"/><circle class="c" cx="411" cy="350.4" r="1.55"/><circle class="c" cx="380.75" cy="362.1" r="1.55"/><circle class="c" cx="374.5" cy="372.75" r="1.55"/><circle class="c" cx="373" cy="379" r="1.55"/><circle class="c" cx="449.25" cy="332.75" r="1.55"/><circle class="c" cx="453.75" cy="350.25" r="1.55"/><circle class="c" cx="430.5" cy="353.75" r="1.55"/><circle class="c" cx="448" cy="355" r="1.55"/><circle class="c" cx="450.75" cy="355" r="1.55"/><circle class="c" cx="452.5" cy="355" r="1.55"/><circle class="c" cx="455" cy="355" r="1.55"/><circle class="c" cx="408.75" cy="367.25" r="1.55"/><circle class="c" cx="413" cy="367.25" r="1.55"/><circle class="c" cx="455.5" cy="367.25" r="1.55"/><circle class="c" cx="455.8" cy="367.5" r="1.55"/><circle class="c" cx="432.5" cy="376" r="1.55"/>
<rect class="bx" x="367.6" y="319.6" width="39.6" height="8.4"/><text class="eq" x="387.4" y="325.5" text-anchor="middle">y=1.84E2-0.22*x</text>
<text class="ax" transform="translate(271.2,300.9) rotate(-90)" text-anchor="middle">SFCT</text>
<text class="ax" x="371" y="409.3">PPA_radian</text>
<text class="r2b" x="481.8" y="214.3">R<tspan font-size="3px" dy="-1.6">2</tspan></text><text class="r2" x="489.4" y="214.3"><tspan fill="#a2a2a2">线性(L)</tspan> = 0.185</text>
</g>
</g>
</svg>
</body></html>
